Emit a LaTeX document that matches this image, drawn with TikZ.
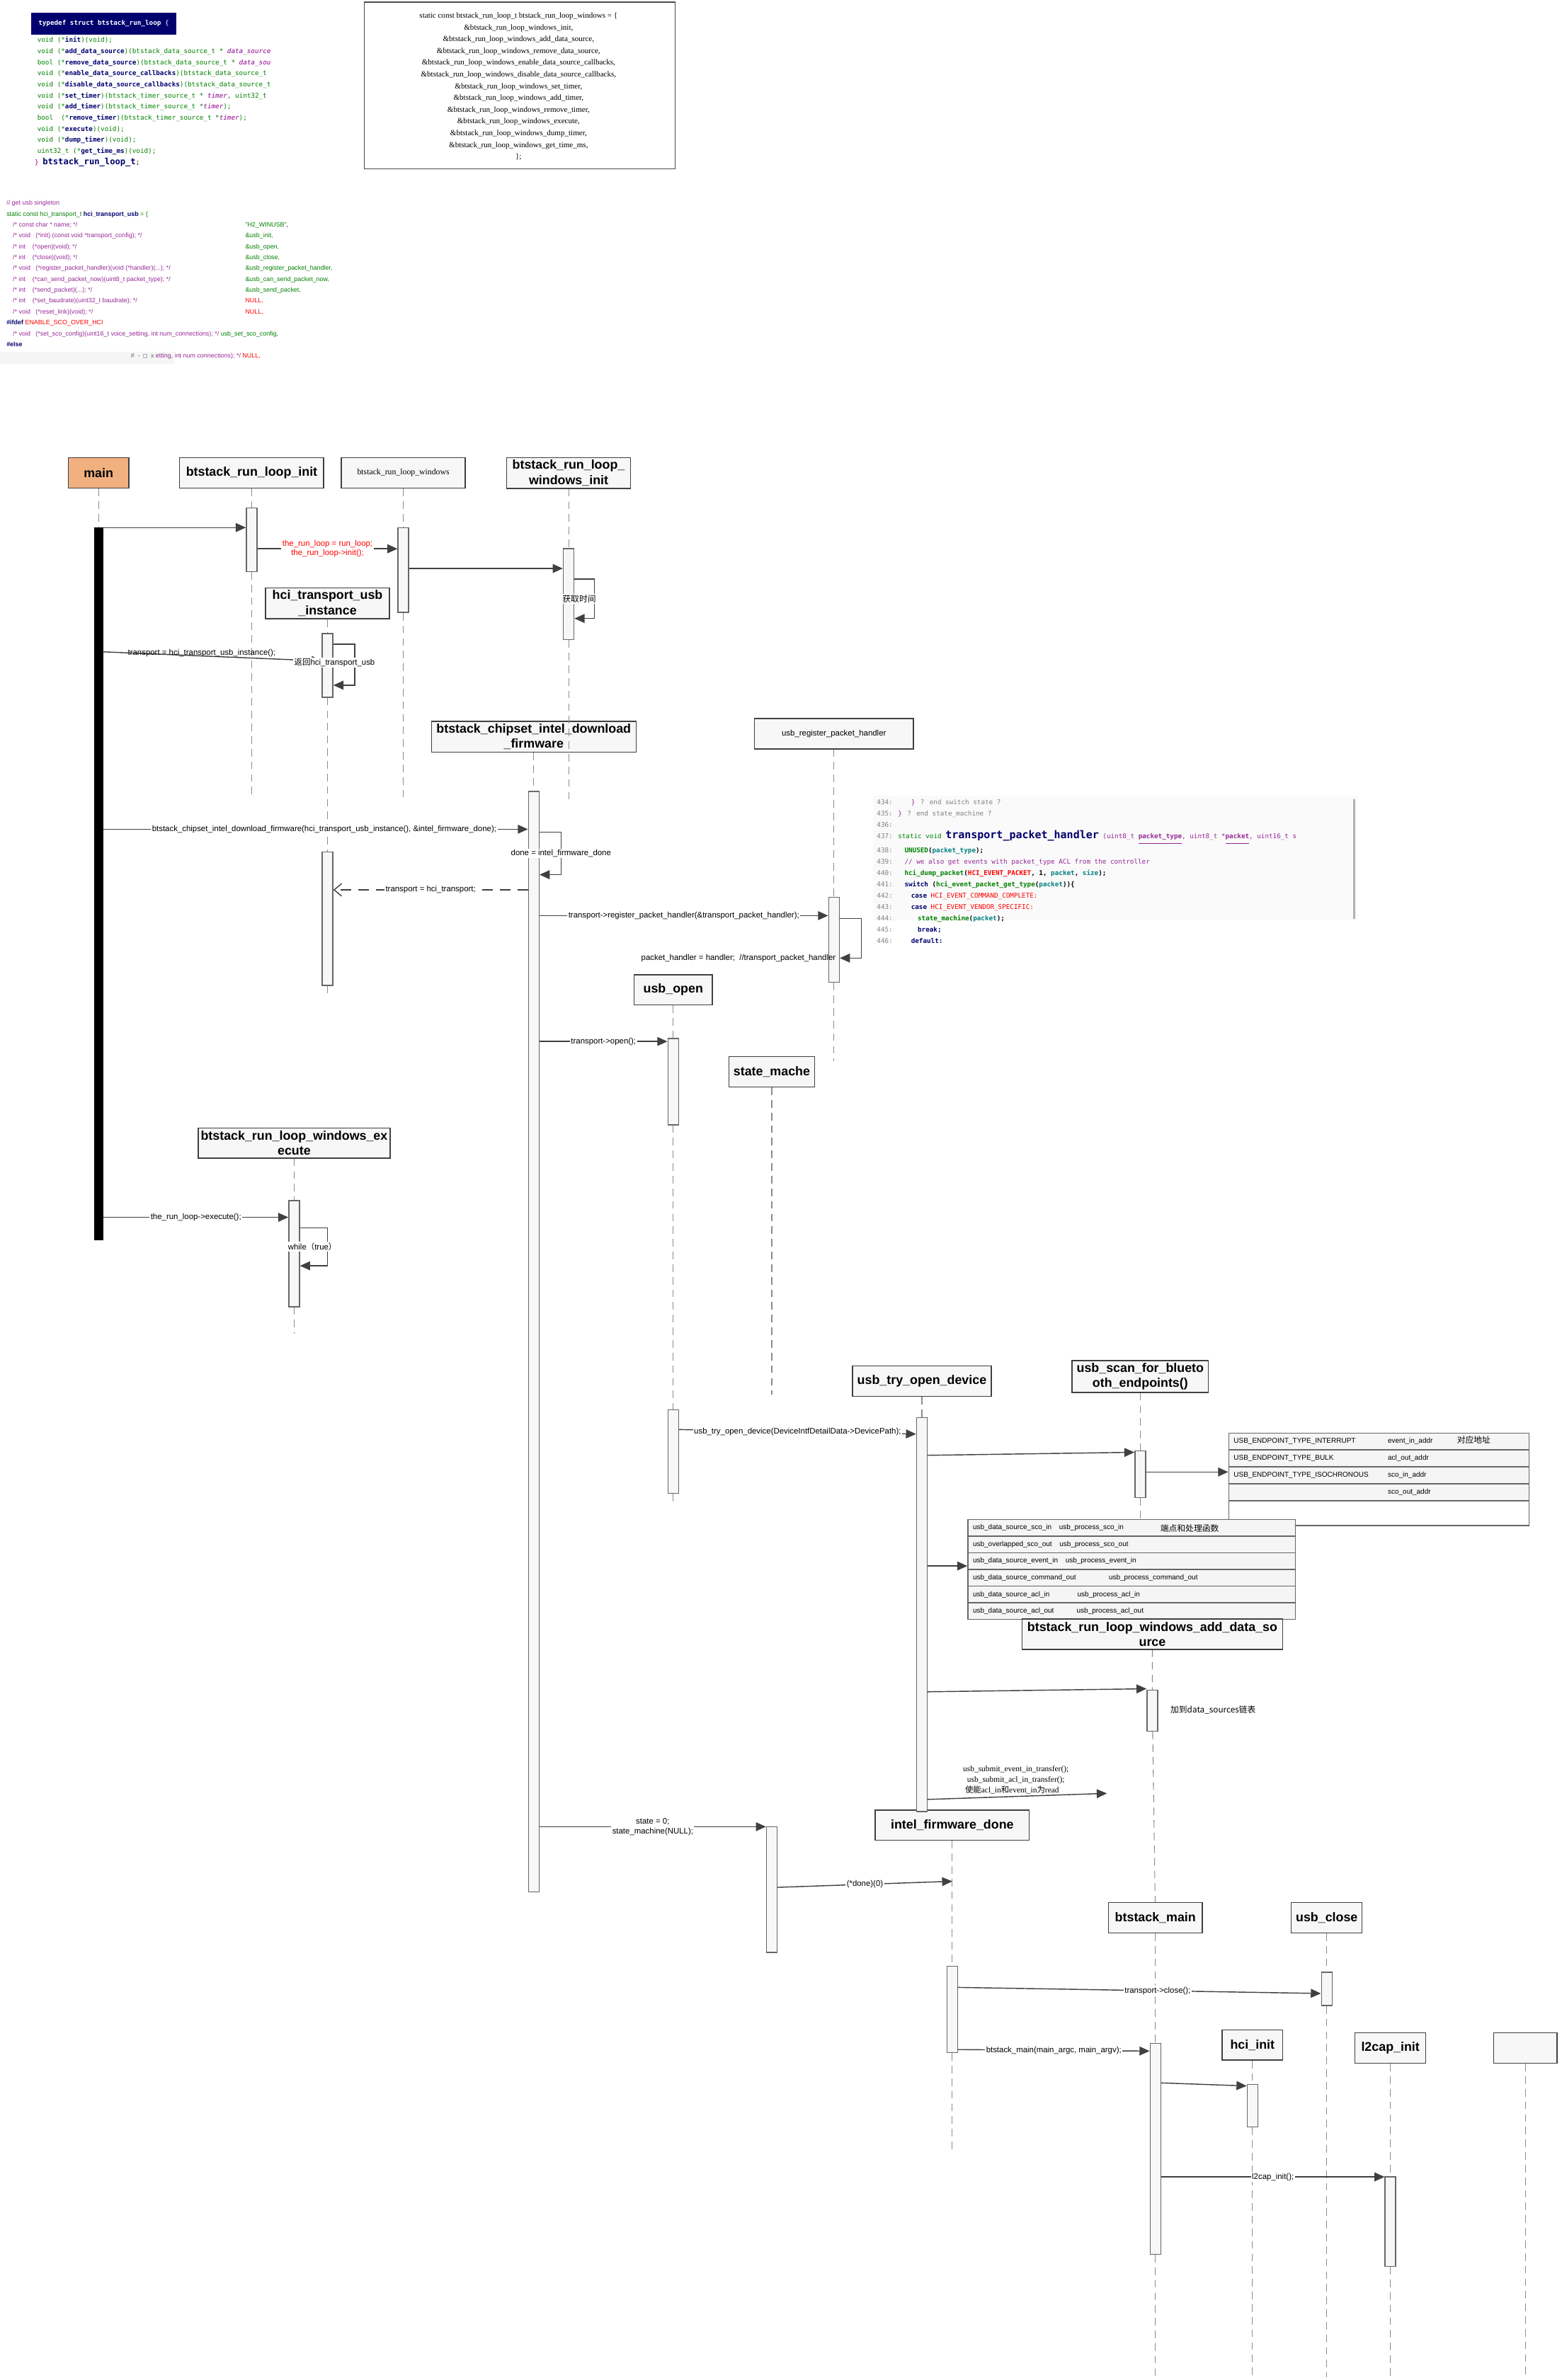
\documentclass[tikz,border=0pt]{standalone}
\usepackage{fontspec}
\setmainfont{Liberation Sans}
\newfontfamily\cjk{Noto Sans CJK SC}
\newfontfamily\ser{Liberation Serif}
\newfontfamily\mono{DejaVu Sans Mono}
\usetikzlibrary{arrows.meta, positioning, fit, calc}
\definecolor{kw}{RGB}{0,128,0}
\definecolor{ty}{RGB}{140,0,140}
\definecolor{nm}{RGB}{0,0,110}
\definecolor{hdr}{RGB}{240,176,128}
\definecolor{cm}{RGB}{150,40,150}

\tikzset{
  head/.style={draw=black!75, fill=black!3, align=center, inner sep=1pt, font=\fontsize{5}{6}\selectfont\bfseries, minimum height=12pt},
  act/.style={draw=black!60, fill=black!3, inner sep=0pt},
  life/.style={draw=black!45, dash pattern=on 3pt off 2pt, line width=0.3pt},
  msg/.style={-{Triangle[length=4pt,width=3.5pt]}, draw=black!75, line width=0.4pt},
  lbl/.style={fill=white, inner sep=0.4pt, font=\fontsize{3.2}{3.8}\selectfont, align=center},
  code/.style={anchor=north west, inner sep=0pt, align=left, font=\mono\fontsize{2.6}{4.4}\selectfont},
  row/.style={draw=black!60, fill=black!4, anchor=north west, inner xsep=2pt, inner ysep=0pt, minimum height=6.6pt, align=left, font=\fontsize{2.8}{3.4}\selectfont}
}
\newcommand{\actbar}[4]{\node[act, fit={(#2-3.5,#3)(#2+3.5,#4)}] (#1) {};}
\newcommand{\cl}[2]{\makebox[92pt][l]{\textcolor{cm}{#1}}#2}

\begin{document}
\begin{tikzpicture}[x=0.6pt, y=-0.6pt]
\useasboundingbox (0,0) rectangle (1030,1570);

% code snippets at the top
\node[code] (runloopdef) at (20,8) {%
\colorbox{nm}{\textcolor{white}{\textbf{typedef struct btstack\_run\_loop} \{}}\\
\quad\textcolor{kw}{void (*\textbf{\textcolor{nm}{init}})(void);}\\
\quad\textcolor{kw}{void (*\textbf{\textcolor{nm}{add\_data\_source}})(btstack\_data\_source\_t * \textcolor{ty}{\textit{data\_source}}}\\
\quad\textcolor{kw}{bool (*\textbf{\textcolor{nm}{remove\_data\_source}})(btstack\_data\_source\_t * \textcolor{ty}{\textit{data\_sou}}}\\
\quad\textcolor{kw}{void (*\textbf{\textcolor{nm}{enable\_data\_source\_callbacks}})(btstack\_data\_source\_t}\\
\quad\textcolor{kw}{void (*\textbf{\textcolor{nm}{disable\_data\_source\_callbacks}})(btstack\_data\_source\_t}\\
\quad\textcolor{kw}{void (*\textbf{\textcolor{nm}{set\_timer}})(btstack\_timer\_source\_t * \textcolor{ty}{\textit{timer}}, uint32\_t}\\
\quad\textcolor{kw}{void (*\textbf{\textcolor{nm}{add\_timer}})(btstack\_timer\_source\_t *\textcolor{ty}{\textit{timer}});}\\
\quad\textcolor{kw}{bool \ (*\textbf{\textcolor{nm}{remove\_timer}})(btstack\_timer\_source\_t *\textcolor{ty}{\textit{timer}});}\\
\quad\textcolor{kw}{void (*\textbf{\textcolor{nm}{execute}})(void);}\\
\quad\textcolor{kw}{void (*\textbf{\textcolor{nm}{dump\_timer}})(void);}\\
\quad\textcolor{kw}{uint32\_t (*\textbf{\textcolor{nm}{get\_time\_ms}})(void);}\\
\ \textcolor{ty}{\}} \textbf{\textcolor{nm}{\fontsize{3.4}{4.4}\selectfont btstack\_run\_loop\_t}};};

\node[draw=black!70, minimum width=123pt, minimum height=66pt, anchor=north west] (windowsbox) at (240,1) {};
\node[anchor=north, align=center, inner sep=0pt, font=\ser\fontsize{3.1}{4.65}\selectfont] (windowstext) at (342,8) {%
static const btstack\_run\_loop\_t btstack\_run\_loop\_windows = \{\\
\&btstack\_run\_loop\_windows\_init,\\
\&btstack\_run\_loop\_windows\_add\_data\_source,\\
\&btstack\_run\_loop\_windows\_remove\_data\_source,\\
\&btstack\_run\_loop\_windows\_enable\_data\_source\_callbacks,\\
\&btstack\_run\_loop\_windows\_disable\_data\_source\_callbacks,\\
\&btstack\_run\_loop\_windows\_set\_timer,\\
\&btstack\_run\_loop\_windows\_add\_timer,\\
\&btstack\_run\_loop\_windows\_remove\_timer,\\
\&btstack\_run\_loop\_windows\_execute,\\
\&btstack\_run\_loop\_windows\_dump\_timer,\\
\&btstack\_run\_loop\_windows\_get\_time\_ms,\\
\};};

\node[code, font=\fontsize{2.5}{4.3}\selectfont] (usbdef) at (4,132) {%
\textcolor{cm}{// get usb singleton}\\
\textcolor{kw}{static const hci\_transport\_t \textbf{\textcolor{nm}{hci\_transport\_usb}} = \{}\\
\quad\cl{/* const char * name; */}{\textcolor{kw}{"H2\_WINUSB"},}\\
\quad\cl{/* void \ \ (*init) (const void *transport\_config); */}{\textcolor{kw}{\&usb\_init,}}\\
\quad\cl{/* int \ \ \ (*open)(void); */}{\textcolor{kw}{\&usb\_open,}}\\
\quad\cl{/* int \ \ \ (*close)(void); */}{\textcolor{kw}{\&usb\_close,}}\\
\quad\cl{/* void \ \ (*register\_packet\_handler)(void (*handler)(...); */}{\textcolor{kw}{\&usb\_register\_packet\_handler,}}\\
\quad\cl{/* int \ \ \ (*can\_send\_packet\_now)(uint8\_t packet\_type); */}{\textcolor{kw}{\&usb\_can\_send\_packet\_now,}}\\
\quad\cl{/* int \ \ \ (*send\_packet)(...); */}{\textcolor{kw}{\&usb\_send\_packet,}}\\
\quad\cl{/* int \ \ \ (*set\_baudrate)(uint32\_t baudrate); */}{\textcolor{red}{NULL,}}\\
\quad\cl{/* void \ \ (*reset\_link)(void); */}{\textcolor{red}{NULL,}}\\
\textbf{\textcolor{nm}{\#ifdef}} \textcolor{red}{ENABLE\_SCO\_OVER\_HCI}\\
\quad\textcolor{cm}{/* void \ \ (*set\_sco\_config)(uint16\_t voice\_setting, int num\_connections); */} \textcolor{kw}{usb\_set\_sco\_config,}\\
\textbf{\textcolor{nm}{\#else}}};
\fill[black!4] (0,232) rectangle (115,240);
\node[code, font=\fontsize{2.5}{3}\selectfont, anchor=west] (usbtail) at (86,235) {\textcolor{black!60}{\# \ - \ {\mono □} \ x} \textcolor{cm}{etting, int num connections); */} \textcolor{red}{NULL,}};

% code of transport_packet_handler
\fill[black!2] (576,525) rectangle (895,607);
\draw[black!30, line width=1pt] (893,527) -- (893,606);
\node[code, font=\mono\fontsize{2.6}{4.5}\selectfont] (handlercode) at (578,527) {%
\textcolor{black!50}{434:} \quad\quad \textcolor{cm}{\}} \textcolor{black!50}{? end switch state ?}\\
\textcolor{black!50}{435:} \textcolor{cm}{\}} \textcolor{black!50}{? end state\_machine ?}\\
\textcolor{black!50}{436:}\\
\textcolor{black!50}{437:} \textcolor{kw}{static void} \textbf{\textcolor{nm}{\fontsize{4.2}{4.5}\selectfont transport\_packet\_handler}} \textcolor{cm}{(uint8\_t \underline{\textbf{packet\_type}}, uint8\_t *\underline{\textbf{packet}}, uint16\_t s}\\
\textcolor{black!50}{438:} \quad \textbf{\textcolor{kw}{UNUSED}(\textcolor{teal}{packet\_type});}\\
\textcolor{black!50}{439:} \quad \textcolor{cm}{// we also get events with packet\_type ACL from the controller}\\
\textcolor{black!50}{440:} \quad \textbf{\textcolor{kw}{hci\_dump\_packet}(\textcolor{red}{HCI\_EVENT\_PACKET}, 1, \textcolor{teal}{packet}, \textcolor{teal}{size});}\\
\textcolor{black!50}{441:} \quad \textbf{\textcolor{nm}{switch} (\textcolor{kw}{hci\_event\_packet\_get\_type}(\textcolor{teal}{packet}))\{}\\
\textcolor{black!50}{442:} \quad\quad \textbf{\textcolor{nm}{case}} \textcolor{red}{HCI\_EVENT\_COMMAND\_COMPLETE:}\\
\textcolor{black!50}{443:} \quad\quad \textbf{\textcolor{nm}{case}} \textcolor{red}{HCI\_EVENT\_VENDOR\_SPECIFIC:}\\
\textcolor{black!50}{444:} \quad\quad\quad \textbf{\textcolor{kw}{state\_machine}(\textcolor{teal}{packet});}\\
\textcolor{black!50}{445:} \quad\quad\quad \textbf{\textcolor{nm}{break;}}\\
\textcolor{black!50}{446:} \quad\quad \textbf{\textcolor{nm}{default:}}};

% lifeline heads
\node[head, fill=hdr, minimum width=24pt] (main) at (65,312) {main};
\node[head, minimum width=57pt] (rlinit) at (166,312) {btstack\_run\_loop\_init};
\node[head, minimum width=49pt, font=\ser\fontsize{3.3}{4}\selectfont] (rlwin) at (266,312) {btstack\_run\_loop\_windows};
\node[head, minimum width=49pt] (wininit) at (375,312) {btstack\_run\_loop\_\\windows\_init};
\node[head, minimum width=49pt] (usbinst) at (216,398) {hci\_transport\_usb\\\_instance};
\node[head, minimum width=81pt] (chipset) at (352,486) {btstack\_chipset\_intel\_download\\\_firmware};
\node[head, minimum width=63pt, font=\fontsize{3.2}{4}\selectfont] (regpkt) at (550,484) {usb\_register\_packet\_handler};
\node[head, minimum width=31pt] (usbopen) at (444,653) {usb\_open};
\node[head, minimum width=34pt] (statem) at (509,707) {state\_mache};
\node[head, minimum width=76pt] (execute) at (194,754) {btstack\_run\_loop\_windows\_ex\\ecute};
\node[head, minimum width=55pt] (tryopen) at (608,911) {usb\_try\_open\_device};
\node[head, minimum width=54pt] (scan) at (752,908) {usb\_scan\_for\_blueto\\oth\_endpoints()};
\node[head, minimum width=61pt] (fwdone) at (628,1204) {intel\_firmware\_done};
\node[head, minimum width=37pt] (btmain) at (762,1265) {btstack\_main};
\node[head, minimum width=28pt] (usbclose) at (875,1265) {usb\_close};
\node[head, minimum width=24pt] (hciinit) at (826,1349) {hci\_init};
\node[head, minimum width=28pt] (l2cap) at (917,1351) {l2cap\_init};
\node[head, minimum width=25pt] (blank) at (1006,1351) {};

% activations
\node[fill=black, fit={(62,348)(68,818)}, inner sep=0pt] (mainbar) {};
\actbar{rlinitA}{166}{335}{377}
\actbar{rlwinA}{266}{348}{404}
\actbar{wininitA}{375}{362}{422}
\actbar{usbinstA}{216}{418}{460}
\actbar{usbinstB}{216}{562}{650}
\actbar{chipsetA}{352}{522}{1248}
\actbar{regpktA}{550}{592}{648}
\actbar{usbopenA}{444}{685}{742}
\actbar{usbopenB}{444}{930}{985}
\actbar{executeA}{194}{792}{862}
\actbar{tryopenA}{608}{935}{1195}
\actbar{scanA}{752}{957}{988}
\actbar{adddataA}{760}{1115}{1142}
\actbar{statemA}{509}{1205}{1288}
\actbar{fwdoneA}{628}{1297}{1354}
\actbar{btmainA}{762}{1348}{1487}
\actbar{usbcloseA}{875}{1301}{1323}
\actbar{hciinitA}{826}{1375}{1403}
\actbar{l2capA}{917}{1436}{1495}

% lifelines
\draw[life] (main) -- (mainbar);
\draw[life] (rlinit) -- (rlinitA) (rlinitA) -- (166,527);
\draw[life] (rlwin) -- (rlwinA) (rlwinA) -- (266,527);
\draw[life] (wininit) -- (wininitA) (wininitA) -- (375,527);
\draw[life] (usbinst) -- (usbinstA) (usbinstA) -- (usbinstB) (usbinstB) -- (216,655);
\draw[life] (chipset) -- (chipsetA);
\draw[life] (regpkt) -- (regpktA) (regpktA) -- (550,700);
\draw[life] (usbopen) -- (usbopenA) (usbopenA) -- (usbopenB) (usbopenB) -- (444,992);
\draw[life] (statem) -- (509,920);
\draw[life] (execute) -- (executeA) (executeA) -- (194,880);
\draw[life] (tryopen) -- (tryopenA);
\draw[life] (scan) -- (scanA) (scanA) -- (752,1068);
\draw[life] (760,1088) -- (adddataA) (adddataA) -- (btmain);
\draw[life] (fwdone) -- (fwdoneA) (fwdoneA) -- (628,1418);
\draw[life] (btmain) -- (btmainA) (btmainA) -- (762,1568);
\draw[life] (usbclose) -- (usbcloseA) (usbcloseA) -- (875,1568);
\draw[life] (hciinit) -- (hciinitA) (hciinitA) -- (826,1568);
\draw[life] (l2cap) -- (l2capA) (l2capA) -- (917,1568);
\draw[life] (blank) -- (1006,1568);

% messages
\draw[msg] (mainbar.east |- 0,348) -- (rlinitA.west |- 0,348);
\draw[msg] (rlinitA.east |- 0,362) -- node[lbl, text=red] {the\_run\_loop = run\_loop;\\the\_run\_loop->init();} (rlwinA.west |- 0,362);
\draw[msg] (rlwinA.east |- 0,375) -- (wininitA.west |- 0,375);
\draw[msg] (wininitA.east |- 0,382) -- (392,382) -- node[lbl, pos=0.5, font=\cjk\fontsize{3.3}{4}\selectfont, xshift=-6pt] {获取时间} (392,408) -- (wininitA.east |- 0,408);
\draw[msg] (mainbar.east |- 0,430) -- node[lbl, pos=0.45, above=-1pt, fill=none] {transport = hci\_transport\_usb\_instance();} (usbinstA.west |- 0,436);
\draw[msg] (usbinstA.east |- 0,425) -- (234,425) -- node[lbl, pos=0.45, xshift=-8pt] {{\cjk 返回}hci\_transport\_usb} (234,452) -- (usbinstA.east |- 0,452);
\draw[msg] (mainbar.east |- 0,547) -- node[lbl, pos=0.52] {btstack\_chipset\_intel\_download\_firmware(hci\_transport\_usb\_instance(), \&intel\_firmware\_done);} (chipsetA.west |- 0,547);
\draw[msg] (chipsetA.east |- 0,549) -- (370,549) -- node[lbl, pos=0.5] {done = intel\_firmware\_done} (370,577) -- (chipsetA.east |- 0,577);
\draw[-{Straight Barb[length=3pt,width=5pt]}, draw=black!75, line width=0.4pt, dash pattern=on 4pt off 3pt] (chipsetA.west |- 0,587) -- node[lbl] {transport = hci\_transport;} (usbinstB.east |- 0,587);
\draw[msg] (chipsetA.east |- 0,604) -- node[lbl] {transport->register\_packet\_handler(\&transport\_packet\_handler);} (regpktA.west |- 0,604);
\draw[msg] (regpktA.east |- 0,606) -- (568,606) -- (568,632) -- node[lbl, pos=1, left=1pt, fill=none] {packet\_handler = handler; \ //transport\_packet\_handler} (regpktA.east |- 0,632);
\draw[msg] (chipsetA.east |- 0,687) -- node[lbl] {transport->open();} (usbopenA.west |- 0,687);
\draw[msg] (mainbar.east |- 0,803) -- node[lbl] {the\_run\_loop->execute();} (executeA.west |- 0,803);
\draw[msg] (executeA.east |- 0,810) -- (216,810) -- node[lbl, pos=0.5, xshift=-6pt] {while{\cjk（}true{\cjk）}} (216,835) -- (executeA.east |- 0,835);
\draw[msg] (usbopenB.east |- 0,943) -- node[lbl] {usb\_try\_open\_device(DeviceIntfDetailData->DevicePath);} (tryopenA.west |- 0,946);
\draw[msg] (tryopenA.east |- 0,960) -- (scanA.west |- 0,958);

% endpoint table
\foreach \t/\a/\i in {USB\_ENDPOINT\_TYPE\_INTERRUPT/event\_in\_addr/0, USB\_ENDPOINT\_TYPE\_BULK/acl\_out\_addr/1, USB\_ENDPOINT\_TYPE\_ISOCHRONOUS/sco\_in\_addr/2, {}/sco\_out\_addr/3}
  \node[row, text width=114.8pt] (ep\i) at (810,945+11.2*\i) {\makebox[61pt][l]{\t}\makebox[28pt][l]{\a}};
\node[row, fill=white, text width=114.8pt, minimum height=9.6pt] (ep4) at (810,990) {};
\node[font=\cjk\fontsize{3.3}{4}\selectfont, inner sep=0pt] (eplabel) at (972,950) {对应地址};
\draw[msg] (scanA.east |- 0,971) -- (ep2.west |- 0,971);

% data source table
\foreach \s/\p/\o/\i in {usb\_data\_source\_sco\_in/usb\_process\_sco\_in/0/0, usb\_overlapped\_sco\_out/usb\_process\_sco\_out/0/1, usb\_data\_source\_event\_in/usb\_process\_event\_in/0/2, usb\_data\_source\_command\_out/usb\_process\_command\_out/10/3, usb\_data\_source\_acl\_in/usb\_process\_acl\_in/8/4, usb\_data\_source\_acl\_out/usb\_process\_acl\_out/6/5}
  \node[row, text width=125.6pt] (ds\i) at (638,1002+11*\i) {\s\hspace{3pt}\hspace{\o pt}\p};
\node[font=\cjk\fontsize{3.3}{4}\selectfont, inner sep=0pt, anchor=west] (dslabel) at (765,1008) {端点和处理函数};
\draw[msg] (tryopenA.east |- 0,1033) -- (ds2.west |- 0,1033);
\node[head, minimum width=103pt] (adddata) at (760,1078) {btstack\_run\_loop\_windows\_add\_data\_so\\urce};

\draw[msg] (tryopenA.east |- 0,1116) -- (adddataA.west |- 0,1114);
\node[lbl, font=\cjk\fontsize{3.3}{4}\selectfont, anchor=west, fill=none] (addlabel) at (771,1128) {加到data\_sources链表};
\coordinate (readend) at (730,1183);
\draw[msg] (tryopenA.east |- 0,1187) -- (readend);
\node[lbl, font=\ser\fontsize{3.2}{4.2}\selectfont, fill=none, align=left] (submit) at (670,1174) {usb\_submit\_event\_in\_transfer();\\\ \ usb\_submit\_acl\_in\_transfer();\\\ {\cjk 使能}acl\_in{\cjk 和}event\_in{\cjk 为}read};

\draw[msg] (chipsetA.east |- 0,1205) -- node[lbl] {state = 0;\\state\_machine(NULL);} (statemA.west |- 0,1205);
\draw[msg] (statemA.east |- 0,1245) -- node[lbl] {(*done)(0)} (fwdone.south |- 0,1241);
\draw[msg] (fwdoneA.east |- 0,1311) -- node[lbl, pos=0.55] {transport->close();} (usbcloseA.west |- 0,1315);
\draw[msg] (fwdoneA.east |- 0,1352) -- node[lbl] {btstack\_main(main\_argc, main\_argv);} (btmainA.west |- 0,1353);
\draw[msg] (btmainA.east |- 0,1374) -- (hciinitA.west |- 0,1376);
\draw[msg] (btmainA.east |- 0,1436) -- node[lbl] {l2cap\_init();} (l2capA.west |- 0,1436);
\end{tikzpicture}
\end{document}
